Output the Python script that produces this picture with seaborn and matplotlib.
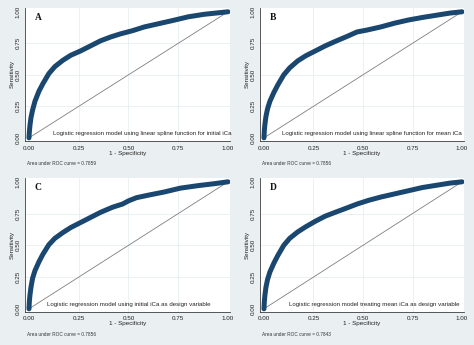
import matplotlib
matplotlib.use("Agg")
import matplotlib.pyplot as plt
import pandas as pd
import seaborn as sns

# ROC curves of four logistic regression models (1 - specificity vs sensitivity)
panel_letters = ["A", "B", "C", "D"]
model_labels = [
    "Logistic regression model using linear spline function for initial iCa",
    "Logistic regression model using linear spline function for mean iCa",
    "Logistic regression model using initial iCa as design variable",
    "Logistic regression model treating mean iCa as design variable",
]
auc_values = ["0.7859", "0.7856", "0.7856", "0.7843"]

fpr_a = [0, 0.002, 0.005, 0.010, 0.018, 0.030, 0.050, 0.070, 0.100, 0.130, 0.170, 0.210,
         0.260, 0.310, 0.360, 0.410, 0.460, 0.520, 0.580, 0.650, 0.720, 0.800, 0.880, 0.940, 1.0]
tpr_a = [0, 0.050, 0.100, 0.160, 0.220, 0.290, 0.370, 0.430, 0.510, 0.565, 0.615, 0.655,
         0.690, 0.730, 0.770, 0.800, 0.825, 0.850, 0.880, 0.905, 0.930, 0.960, 0.980, 0.990, 1.0]

fpr_b = [0, 0.002, 0.005, 0.010, 0.018, 0.030, 0.050, 0.070, 0.100, 0.130, 0.170, 0.210,
         0.260, 0.310, 0.360, 0.420, 0.470, 0.520, 0.590, 0.660, 0.730, 0.800, 0.880, 0.940, 1.0]
tpr_b = [0, 0.060, 0.110, 0.170, 0.230, 0.290, 0.360, 0.420, 0.500, 0.555, 0.610, 0.650,
         0.690, 0.730, 0.765, 0.805, 0.840, 0.855, 0.880, 0.910, 0.935, 0.955, 0.975, 0.990, 1.0]

fpr_c = [0, 0.002, 0.005, 0.010, 0.018, 0.030, 0.050, 0.070, 0.100, 0.130, 0.170, 0.210,
         0.260, 0.310, 0.360, 0.420, 0.470, 0.500, 0.540, 0.600, 0.680, 0.760, 0.850, 0.930, 1.0]
tpr_c = [0, 0.060, 0.110, 0.170, 0.240, 0.300, 0.370, 0.430, 0.505, 0.555, 0.600, 0.640,
         0.680, 0.720, 0.760, 0.800, 0.825, 0.850, 0.875, 0.895, 0.920, 0.950, 0.970, 0.985, 1.0]

fpr_d = [0, 0.002, 0.005, 0.010, 0.018, 0.030, 0.050, 0.070, 0.100, 0.130, 0.170, 0.210,
         0.260, 0.310, 0.360, 0.420, 0.470, 0.530, 0.590, 0.660, 0.730, 0.800, 0.880, 0.940, 1.0]
tpr_d = [0, 0.060, 0.110, 0.170, 0.230, 0.290, 0.360, 0.420, 0.500, 0.555, 0.605, 0.645,
         0.690, 0.730, 0.760, 0.795, 0.825, 0.855, 0.880, 0.905, 0.930, 0.955, 0.975, 0.990, 1.0]

ticks = [0.0, 0.25, 0.5, 0.75, 1.0]
tick_labels = ["0.00", "0.25", "0.50", "0.75", "1.00"]

curves = pd.concat(
    [pd.DataFrame({"panel": p, "fpr": f, "tpr": t})
     for p, f, t in zip(panel_letters,
                        [fpr_a, fpr_b, fpr_c, fpr_d],
                        [tpr_a, tpr_b, tpr_c, tpr_d])],
    ignore_index=True,
)

sns.set_theme(style="white")
plt.rcParams["font.family"] = ["Liberation Sans", "DejaVu Sans"]

BG = "#eaf0f2"
NAVY = "#1a476f"
W, H = 474, 345
fig = plt.figure(figsize=(W / 72, H / 72), dpi=72, facecolor=BG)

# axes boxes in pixels: left, top, width, height
boxes = [(25, 8, 205, 133), (260, 8, 204, 133),
         (25, 178, 205, 134), (260, 178, 204, 134)]
label_x = [0.57, 0.545, 0.50, 0.555]

for letter, box, lab, auc, lx in zip(panel_letters, boxes, model_labels, auc_values, label_x):
    l, t, w, h = box
    ax = fig.add_axes([l / W, 1 - (t + h) / H, w / W, h / H])
    ax.set_facecolor("white")
    sub = curves[curves["panel"] == letter]
    ax.plot([0, 1], [0, 1], color="#7a7a7a", lw=0.8, zorder=2)
    sns.lineplot(data=sub, x="fpr", y="tpr", sort=False, estimator=None,
                 color=NAVY, lw=5.0, ax=ax, zorder=3, solid_capstyle="round")
    ax.set_xlim(-0.02, 1.01)
    ax.set_ylim(-0.025, 1.03)
    ax.set_xticks(ticks, tick_labels)
    ax.set_yticks(ticks, tick_labels)
    for g in ticks[1:-1]:
        ax.axvline(g, color="#e6eef1", lw=0.8, zorder=1)
        ax.axhline(g, color="#e6eef1", lw=0.8, zorder=1)
    for s in ["top", "right"]:
        ax.spines[s].set_visible(False)
    for s in ["left", "bottom"]:
        ax.spines[s].set_color("#333333")
        ax.spines[s].set_linewidth(0.8)
    ax.tick_params(axis="both", direction="out", length=3, width=0.7,
                   color="#333333", labelsize=6.2, labelcolor="#222222", pad=1.5)
    ax.tick_params(axis="y", labelrotation=90)
    for tl in ax.get_yticklabels():
        tl.set_va("center")
    ax.set_xlabel("1 - Specificity", fontsize=6.2, color="#222222", labelpad=0)
    ax.set_ylabel("Sensitivity", fontsize=6.2, color="#222222", labelpad=1)
    ax.text(0.03, 0.955, letter, fontsize=9.5, fontweight="bold",
            family=["Liberation Serif", "DejaVu Serif"], color="#111111",
            va="center", ha="left", zorder=4)
    ax.text(lx, 0.035, lab, fontsize=6.1, color="#222222", ha="center", va="center", zorder=4)
    ax.text(0.01, -0.17, f"Area under ROC curve = {auc}", fontsize=4.7,
            color="#333333", transform=ax.transAxes, ha="left", va="center")

fig.savefig("out.png", dpi=72, facecolor=BG)
